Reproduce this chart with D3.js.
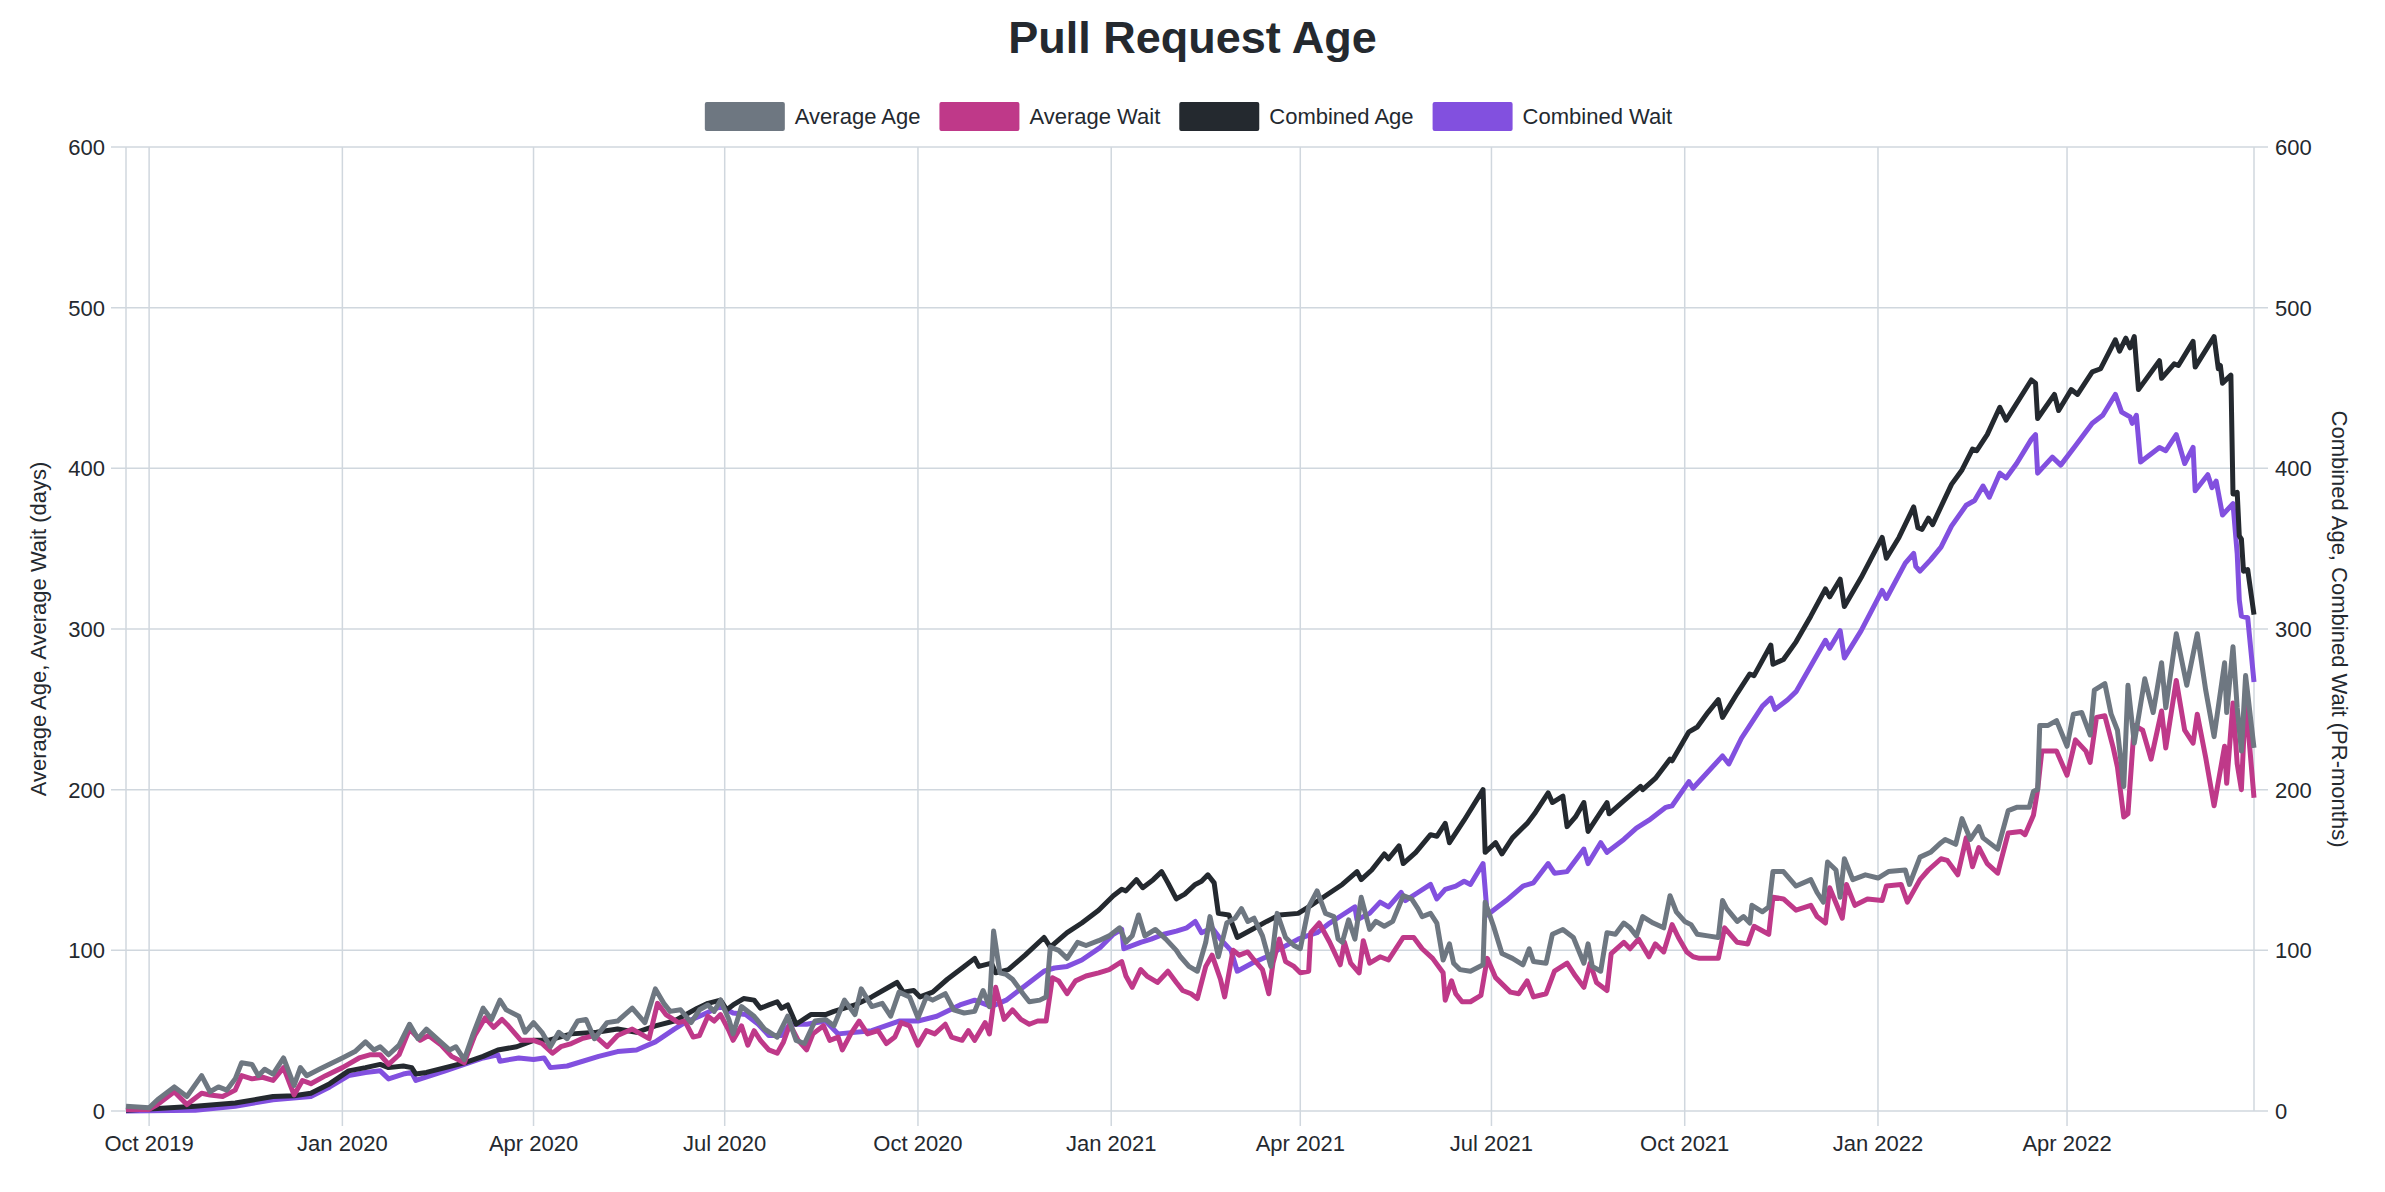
<!DOCTYPE html>
<html>
<head>
<meta charset="utf-8">
<script src="https://cdn.jsdelivr.net/npm/d3@7"></script>
<style>
  body { margin: 0; background: #fff; }
  text { font-family: "Liberation Sans", Arial, Helvetica, sans-serif; fill: #24292f; }
</style>
</head>
<body>
<div id="chart"></div>
<script>
// ---- data ----
var seriesNames = ["Average Age", "Average Wait", "Combined Age", "Combined Wait"];
var seriesAxis  = ["left", "left", "right", "right"];
var yTicks = [0, 100, 200, 300, 400, 500, 600];
var leftTitle = "Average Age, Average Wait (days)";
var rightTitle = "Combined Age, Combined Wait (PR-months)";

var avgAgeData = [["2019-09-20",3],["2019-10-01",2],["2019-10-05",7],["2019-10-13",15],["2019-10-19",9],["2019-10-26",22],["2019-10-30",12],["2019-11-03",15],["2019-11-07",13],["2019-11-11",20],["2019-11-14",30],["2019-11-19",29],["2019-11-22",22],["2019-11-25",26],["2019-11-29",23],["2019-12-04",33],["2019-12-09",16],["2019-12-12",27],["2019-12-15",22],["2019-12-21",26],["2020-01-01",33],["2020-01-07",37],["2020-01-12",43],["2020-01-16",38],["2020-01-19",40],["2020-01-23",35],["2020-01-28",41],["2020-02-02",54],["2020-02-06",45],["2020-02-10",51],["2020-02-15",45],["2020-02-21",38],["2020-02-24",40],["2020-02-28",32],["2020-03-03",47],["2020-03-08",64],["2020-03-12",57],["2020-03-16",69],["2020-03-19",63],["2020-03-25",59],["2020-03-28",49],["2020-04-01",55],["2020-04-05",49],["2020-04-09",40],["2020-04-13",49],["2020-04-17",45],["2020-04-22",56],["2020-04-26",57],["2020-04-30",45],["2020-05-06",55],["2020-05-11",56],["2020-05-18",64],["2020-05-24",55],["2020-05-29",76],["2020-06-02",67],["2020-06-05",62],["2020-06-10",63],["2020-06-15",55],["2020-06-19",63],["2020-06-23",66],["2020-06-26",62],["2020-06-29",69],["2020-07-03",57],["2020-07-05",48],["2020-07-09",65],["2020-07-15",59],["2020-07-20",51],["2020-07-26",46],["2020-07-31",59],["2020-08-04",44],["2020-08-08",42],["2020-08-13",56],["2020-08-18",57],["2020-08-22",53],["2020-08-27",69],["2020-09-01",60],["2020-09-04",76],["2020-09-09",65],["2020-09-14",67],["2020-09-18",59],["2020-09-22",74],["2020-09-27",71],["2020-10-01",58],["2020-10-05",71],["2020-10-08",69],["2020-10-14",73],["2020-10-18",63],["2020-10-23",61],["2020-10-28",62],["2020-11-01",75],["2020-11-04",65],["2020-11-06",112],["2020-11-09",86],["2020-11-12",85],["2020-11-15",82],["2020-11-20",73],["2020-11-23",68],["2020-11-28",69],["2020-12-01",71],["2020-12-03",102],["2020-12-07",100],["2020-12-11",95],["2020-12-16",105],["2020-12-20",103],["2020-12-26",106],["2020-12-31",109],["2021-01-05",114],["2021-01-08",105],["2021-01-11",109],["2021-01-14",122],["2021-01-17",109],["2021-01-22",113],["2021-01-27",107],["2021-02-01",100],["2021-02-03",96],["2021-02-07",90],["2021-02-11",87],["2021-02-15",105],["2021-02-17",121],["2021-02-21",96],["2021-02-25",117],["2021-03-01",120],["2021-03-04",126],["2021-03-07",118],["2021-03-10",120],["2021-03-14",109],["2021-03-18",90],["2021-03-21",123],["2021-03-25",108],["2021-03-29",103],["2021-04-01",101],["2021-04-05",127],["2021-04-09",137],["2021-04-13",123],["2021-04-17",121],["2021-04-19",107],["2021-04-21",105],["2021-04-24",119],["2021-04-27",107],["2021-04-30",133],["2021-05-04",113],["2021-05-07",118],["2021-05-11",115],["2021-05-15",118],["2021-05-20",134],["2021-05-24",132],["2021-05-27",126],["2021-05-29",121],["2021-06-02",123],["2021-06-05",117],["2021-06-08",94],["2021-06-11",104],["2021-06-13",92],["2021-06-16",88],["2021-06-21",87],["2021-06-27",91],["2021-06-28",130],["2021-07-02",115],["2021-07-06",98],["2021-07-11",95],["2021-07-16",91],["2021-07-19",101],["2021-07-21",93],["2021-07-27",92],["2021-07-30",110],["2021-08-04",113],["2021-08-09",108],["2021-08-14",92],["2021-08-16",104],["2021-08-18",90],["2021-08-22",87],["2021-08-25",111],["2021-08-29",110],["2021-09-02",117],["2021-09-05",114],["2021-09-08",109],["2021-09-11",121],["2021-09-16",117],["2021-09-21",114],["2021-09-24",134],["2021-09-27",124],["2021-10-01",118],["2021-10-04",116],["2021-10-07",110],["2021-10-12",109],["2021-10-17",108],["2021-10-19",131],["2021-10-21",126],["2021-10-26",118],["2021-10-29",121],["2021-11-01",117],["2021-11-02",128],["2021-11-07",124],["2021-11-10",127],["2021-11-12",149],["2021-11-17",149],["2021-11-23",140],["2021-11-30",144],["2021-12-03",136],["2021-12-06",130],["2021-12-08",155],["2021-12-12",150],["2021-12-14",133],["2021-12-16",157],["2021-12-20",144],["2021-12-26",147],["2022-01-01",145],["2022-01-06",149],["2022-01-14",150],["2022-01-16",141],["2022-01-21",158],["2022-01-26",161],["2022-01-31",167],["2022-02-02",169],["2022-02-07",166],["2022-02-10",182],["2022-02-14",169],["2022-02-18",177],["2022-02-20",170],["2022-02-27",163],["2022-03-04",187],["2022-03-08",189],["2022-03-14",189],["2022-03-16",199],["2022-03-18",200],["2022-03-19",240],["2022-03-23",240],["2022-03-27",243],["2022-04-01",227],["2022-04-04",247],["2022-04-08",248],["2022-04-12",234],["2022-04-14",262],["2022-04-19",266],["2022-04-22",247],["2022-04-25",237],["2022-04-28",202],["2022-04-30",265],["2022-05-03",229],["2022-05-08",269],["2022-05-12",248],["2022-05-16",279],["2022-05-18",251],["2022-05-23",297],["2022-05-28",265],["2022-06-02",297],["2022-06-06",262],["2022-06-10",233],["2022-06-15",279],["2022-06-16",248],["2022-06-19",289],["2022-06-21",251],["2022-06-23",224],["2022-06-25",271],["2022-06-29",226]];

var avgWaitData = [["2019-09-20",1],["2019-10-01",1],["2019-10-05",4],["2019-10-13",12],["2019-10-19",4],["2019-10-26",11],["2019-10-30",10],["2019-11-05",9],["2019-11-11",13],["2019-11-14",22],["2019-11-19",20],["2019-11-24",21],["2019-11-29",19],["2019-12-04",27],["2019-12-09",10],["2019-12-13",19],["2019-12-17",17],["2019-12-24",22],["2020-01-01",27],["2020-01-09",33],["2020-01-14",35],["2020-01-19",35],["2020-01-23",29],["2020-01-28",35],["2020-02-02",51],["2020-02-07",44],["2020-02-11",47],["2020-02-17",41],["2020-02-22",34],["2020-02-28",30],["2020-03-04",47],["2020-03-09",58],["2020-03-13",52],["2020-03-17",57],["2020-03-20",53],["2020-03-26",44],["2020-04-01",44],["2020-04-05",42],["2020-04-10",36],["2020-04-14",40],["2020-04-19",42],["2020-04-24",45],["2020-04-30",47],["2020-05-06",40],["2020-05-11",47],["2020-05-18",51],["2020-05-26",45],["2020-05-30",67],["2020-06-03",60],["2020-06-09",55],["2020-06-12",56],["2020-06-16",46],["2020-06-19",47],["2020-06-23",59],["2020-06-26",56],["2020-06-29",60],["2020-07-03",50],["2020-07-05",44],["2020-07-09",53],["2020-07-12",41],["2020-07-15",50],["2020-07-18",44],["2020-07-22",38],["2020-07-26",36],["2020-07-29",43],["2020-08-01",54],["2020-08-05",44],["2020-08-09",38],["2020-08-12",48],["2020-08-17",53],["2020-08-20",44],["2020-08-24",46],["2020-08-26",38],["2020-08-30",48],["2020-09-03",56],["2020-09-07",48],["2020-09-12",50],["2020-09-16",42],["2020-09-20",46],["2020-09-23",55],["2020-09-27",53],["2020-10-01",41],["2020-10-05",50],["2020-10-09",48],["2020-10-14",54],["2020-10-17",46],["2020-10-22",44],["2020-10-25",50],["2020-10-28",44],["2020-11-02",55],["2020-11-04",48],["2020-11-07",77],["2020-11-11",57],["2020-11-15",63],["2020-11-19",57],["2020-11-23",54],["2020-11-27",56],["2020-12-01",56],["2020-12-04",83],["2020-12-07",81],["2020-12-11",73],["2020-12-15",81],["2020-12-20",84],["2020-12-26",86],["2020-12-31",88],["2021-01-06",93],["2021-01-08",84],["2021-01-11",77],["2021-01-15",88],["2021-01-18",84],["2021-01-23",80],["2021-01-28",87],["2021-02-01",80],["2021-02-04",75],["2021-02-08",73],["2021-02-11",70],["2021-02-15",90],["2021-02-18",97],["2021-02-22",82],["2021-02-24",71],["2021-02-28",100],["2021-03-03",97],["2021-03-07",99],["2021-03-10",94],["2021-03-14",88],["2021-03-17",73],["2021-03-19",92],["2021-03-22",107],["2021-03-25",93],["2021-03-29",90],["2021-04-01",86],["2021-04-05",87],["2021-04-06",111],["2021-04-10",117],["2021-04-15",105],["2021-04-20",91],["2021-04-22",105],["2021-04-25",92],["2021-04-29",86],["2021-05-01",106],["2021-05-04",92],["2021-05-09",96],["2021-05-13",94],["2021-05-20",108],["2021-05-25",108],["2021-05-29",101],["2021-06-03",95],["2021-06-08",86],["2021-06-09",69],["2021-06-12",81],["2021-06-14",73],["2021-06-17",68],["2021-06-21",68],["2021-06-26",72],["2021-06-29",95],["2021-07-03",83],["2021-07-10",74],["2021-07-14",73],["2021-07-18",81],["2021-07-21",71],["2021-07-27",73],["2021-07-31",87],["2021-08-06",92],["2021-08-10",84],["2021-08-14",77],["2021-08-17",92],["2021-08-20",80],["2021-08-25",75],["2021-08-27",98],["2021-09-02",105],["2021-09-05",101],["2021-09-09",107],["2021-09-14",96],["2021-09-17",104],["2021-09-21",99],["2021-09-25",116],["2021-09-28",108],["2021-10-02",99],["2021-10-05",96],["2021-10-08",95],["2021-10-17",95],["2021-10-20",114],["2021-10-26",105],["2021-10-31",104],["2021-11-03",115],["2021-11-10",110],["2021-11-12",133],["2021-11-17",132],["2021-11-23",125],["2021-11-30",128],["2021-12-03",121],["2021-12-07",117],["2021-12-09",139],["2021-12-15",120],["2021-12-17",141],["2021-12-21",128],["2021-12-27",132],["2022-01-03",131],["2022-01-05",140],["2022-01-12",141],["2022-01-15",130],["2022-01-21",144],["2022-01-25",150],["2022-01-31",157],["2022-02-03",156],["2022-02-08",147],["2022-02-12",170],["2022-02-15",152],["2022-02-18",164],["2022-02-22",154],["2022-02-27",148],["2022-03-04",173],["2022-03-10",174],["2022-03-12",172],["2022-03-16",184],["2022-03-18",200],["2022-03-20",224],["2022-03-27",224],["2022-04-01",209],["2022-04-05",231],["2022-04-10",224],["2022-04-12",217],["2022-04-15",245],["2022-04-19",246],["2022-04-23",226],["2022-04-25",214],["2022-04-28",183],["2022-04-30",185],["2022-05-03",240],["2022-05-07",237],["2022-05-11",219],["2022-05-16",249],["2022-05-18",226],["2022-05-23",268],["2022-05-27",237],["2022-05-31",229],["2022-06-02",247],["2022-06-06",220],["2022-06-10",190],["2022-06-15",227],["2022-06-16",204],["2022-06-19",254],["2022-06-21",216],["2022-06-23",200],["2022-06-25",257],["2022-06-29",195]];

var combinedAgeData = [["2019-09-20",0.5],["2019-10-05",1.5],["2019-10-23",3],["2019-11-11",5],["2019-11-29",9],["2019-12-09",9.5],["2019-12-17",11],["2019-12-26",17],["2020-01-04",25],["2020-01-12",27],["2020-01-19",29],["2020-01-23",27],["2020-01-30",28],["2020-02-03",27],["2020-02-05",23],["2020-02-10",24],["2020-02-19",27],["2020-02-28",30],["2020-03-08",34],["2020-03-15",38],["2020-03-24",40],["2020-04-01",44],["2020-04-08",44],["2020-04-19",48],["2020-05-01",49],["2020-05-11",51],["2020-05-20",49],["2020-05-29",53],["2020-06-07",56],["2020-06-18",64],["2020-06-23",67],["2020-06-29",69],["2020-07-02",63],["2020-07-05",66],["2020-07-10",70],["2020-07-15",69],["2020-07-18",64],["2020-07-22",66],["2020-07-26",68],["2020-07-28",64],["2020-07-31",66],["2020-08-02",60],["2020-08-04",54],["2020-08-11",60],["2020-08-18",60],["2020-08-22",62],["2020-09-01",66],["2020-09-09",71],["2020-09-17",77],["2020-09-21",80],["2020-09-24",74],["2020-09-29",75],["2020-10-02",71],["2020-10-08",74],["2020-10-15",82],["2020-10-23",90],["2020-10-28",95],["2020-10-30",90],["2020-11-05",92],["2020-11-07",86],["2020-11-13",88],["2020-11-21",97],["2020-11-30",108],["2020-12-03",102],["2020-12-11",111],["2020-12-18",117],["2020-12-26",125],["2021-01-02",134],["2021-01-06",138],["2021-01-08",137],["2021-01-13",144],["2021-01-16",139],["2021-01-21",144],["2021-01-25",149],["2021-01-28",142],["2021-02-01",132],["2021-02-05",135],["2021-02-10",141],["2021-02-13",143],["2021-02-16",147],["2021-02-19",142],["2021-02-21",123],["2021-02-26",122],["2021-03-02",108],["2021-03-09",113],["2021-03-16",118],["2021-03-22",122],["2021-03-31",123],["2021-04-05",127],["2021-04-13",134],["2021-04-21",141],["2021-04-28",149],["2021-04-30",144],["2021-05-05",150],["2021-05-11",160],["2021-05-13",157],["2021-05-18",165],["2021-05-20",154],["2021-05-26",161],["2021-06-02",172],["2021-06-05",171],["2021-06-09",179],["2021-06-11",167],["2021-06-18",181],["2021-06-27",200],["2021-06-28",161],["2021-07-03",167],["2021-07-06",160],["2021-07-11",170],["2021-07-18",179],["2021-07-22",186],["2021-07-28",198],["2021-07-30",192],["2021-08-04",196],["2021-08-06",177],["2021-08-10",183],["2021-08-14",192],["2021-08-16",174],["2021-08-22",186],["2021-08-25",192],["2021-08-26",185],["2021-09-02",193],["2021-09-10",202],["2021-09-11",200],["2021-09-17",207],["2021-09-24",219],["2021-09-25",218],["2021-10-03",236],["2021-10-07",239],["2021-10-12",248],["2021-10-17",256],["2021-10-19",245],["2021-10-26",260],["2021-11-01",272],["2021-11-03",271],["2021-11-11",290],["2021-11-12",278],["2021-11-17",281],["2021-11-23",292],["2021-11-30",308],["2021-12-07",325],["2021-12-09",320],["2021-12-14",331],["2021-12-16",314],["2021-12-24",332],["2022-01-03",357],["2022-01-05",344],["2022-01-11",357],["2022-01-18",376],["2022-01-20",363],["2022-01-22",362],["2022-01-25",369],["2022-01-27",365],["2022-02-05",390],["2022-02-10",399],["2022-02-15",412],["2022-02-17",411],["2022-02-22",421],["2022-02-28",438],["2022-03-03",430],["2022-03-15",455],["2022-03-17",453],["2022-03-18",431],["2022-03-26",446],["2022-03-28",436],["2022-04-03",449],["2022-04-06",446],["2022-04-13",460],["2022-04-17",462],["2022-04-24",480],["2022-04-26",473],["2022-04-29",481],["2022-05-01",475],["2022-05-03",482],["2022-05-05",449],["2022-05-15",467],["2022-05-16",456],["2022-05-22",465],["2022-05-24",464],["2022-05-31",479],["2022-06-01",463],["2022-06-10",482],["2022-06-12",462],["2022-06-13",464],["2022-06-14",453],["2022-06-18",458],["2022-06-19",384],["2022-06-21",385],["2022-06-22",358],["2022-06-23",356],["2022-06-24",336],["2022-06-26",337],["2022-06-29",309]];

var combinedWaitData = [["2019-09-20",0],["2019-10-23",0.5],["2019-11-11",3],["2019-11-29",7],["2019-12-17",9],["2019-12-26",15],["2020-01-04",22],["2020-01-12",24],["2020-01-19",25],["2020-01-23",20],["2020-01-30",23],["2020-02-03",24],["2020-02-05",19],["2020-02-19",25],["2020-02-28",29],["2020-03-08",33],["2020-03-15",35],["2020-03-16",31],["2020-03-25",33],["2020-04-01",32],["2020-04-06",33],["2020-04-09",27],["2020-04-17",28],["2020-05-02",34],["2020-05-11",37],["2020-05-20",38],["2020-05-29",43],["2020-06-07",51],["2020-06-12",55],["2020-06-19",59],["2020-06-29",65],["2020-07-05",61],["2020-07-11",60],["2020-07-17",54],["2020-07-22",47],["2020-07-28",47],["2020-08-01",54],["2020-08-09",54],["2020-08-18",56],["2020-08-24",48],["2020-09-09",50],["2020-09-22",56],["2020-10-01",56],["2020-10-10",59],["2020-10-21",66],["2020-10-28",69],["2020-11-05",65],["2020-11-12",69],["2020-11-21",78],["2020-11-30",87],["2020-12-05",89],["2020-12-11",90],["2020-12-18",94],["2020-12-27",102],["2021-01-02",110],["2021-01-06",113],["2021-01-07",101],["2021-01-15",105],["2021-01-20",107],["2021-01-26",110],["2021-02-01",112],["2021-02-06",114],["2021-02-10",118],["2021-02-13",111],["2021-02-18",114],["2021-02-22",107],["2021-02-27",100],["2021-03-02",87],["2021-03-09",92],["2021-03-16",96],["2021-03-21",100],["2021-03-31",107],["2021-04-02",108],["2021-04-09",111],["2021-04-15",117],["2021-04-21",122],["2021-04-27",127],["2021-04-28",119],["2021-05-04",123],["2021-05-09",130],["2021-05-13",127],["2021-05-19",136],["2021-05-21",131],["2021-05-27",136],["2021-06-02",141],["2021-06-05",132],["2021-06-09",138],["2021-06-14",140],["2021-06-18",143],["2021-06-21",141],["2021-06-27",154],["2021-06-29",122],["2021-07-03",126],["2021-07-08",131],["2021-07-16",140],["2021-07-21",142],["2021-07-28",154],["2021-07-31",148],["2021-08-06",149],["2021-08-14",163],["2021-08-16",154],["2021-08-22",167],["2021-08-25",161],["2021-09-02",169],["2021-09-08",176],["2021-09-14",181],["2021-09-22",189],["2021-09-25",190],["2021-10-03",205],["2021-10-05",201],["2021-10-19",221],["2021-10-22",216],["2021-10-28",232],["2021-11-01",240],["2021-11-07",252],["2021-11-11",257],["2021-11-13",250],["2021-11-19",256],["2021-11-23",261],["2021-11-30",277],["2021-12-07",293],["2021-12-09",288],["2021-12-14",299],["2021-12-16",282],["2021-12-24",299],["2022-01-03",324],["2022-01-05",319],["2022-01-14",341],["2022-01-18",347],["2022-01-19",339],["2022-01-21",336],["2022-01-26",343],["2022-01-31",351],["2022-02-05",364],["2022-02-12",377],["2022-02-16",380],["2022-02-20",389],["2022-02-23",382],["2022-02-28",397],["2022-03-03",394],["2022-03-08",403],["2022-03-15",418],["2022-03-17",421],["2022-03-18",397],["2022-03-25",407],["2022-03-29",402],["2022-04-05",414],["2022-04-13",428],["2022-04-18",433],["2022-04-24",446],["2022-04-27",435],["2022-05-01",432],["2022-05-02",428],["2022-05-04",433],["2022-05-06",404],["2022-05-08",406],["2022-05-15",413],["2022-05-18",411],["2022-05-23",421],["2022-05-27",403],["2022-05-31",413],["2022-06-01",386],["2022-06-07",396],["2022-06-09",388],["2022-06-11",392],["2022-06-14",371],["2022-06-19",378],["2022-06-21",347],["2022-06-22",318],["2022-06-23",308],["2022-06-26",307],["2022-06-29",267]];

var seriesData = [avgAgeData, avgWaitData, combinedAgeData, combinedWaitData];
var seriesColors = ["#6e7781", "#bf3989", "#24292f", "#8250df"];

(function (){
    var width = 2385,
        height = 1192;
    var margin = {top: 147, right: 131, bottom: 81, left: 126};
    var plotW = width - margin.left - margin.right,
        plotH = height - margin.top - margin.bottom;

    var parse = d3.timeParse("%Y-%m-%d");
    var series = seriesData.map(function(rows, i){
        return {
            name: seriesNames[i],
            axis: seriesAxis[i],
            color: seriesColors[i],
            values: rows.map(function(r){ return {date: parse(r[0]), value: r[1]}; })
        };
    });

    var allDates = [];
    series.forEach(function(s){ s.values.forEach(function(v){ allDates.push(v.date); }); });

    var x = d3.scaleTime()
        .domain(d3.extent(allDates))
        .range([0, plotW]);
    var yLeft = d3.scaleLinear().domain([0, 600]).range([plotH, 0]);
    var yRight = d3.scaleLinear().domain([0, 600]).range([plotH, 0]);

    var svg = d3.select("#chart")
        .append("svg")
        .attr("width", width)
        .attr("height", height);

    // title
    svg.append("text")
        .attr("x", width/2)
        .attr("y", 53)
        .attr("text-anchor", "middle")
        .style("font-size", "45px")
        .style("font-weight", "bold")
        .text("Pull Request Age");

    // legend
    var legend = svg.append("g");
    var items = legend.selectAll("g")
        .data(series)
        .enter().append("g");
    items.append("rect")
        .attr("width", 80)
        .attr("height", 29)
        .attr("rx", 2)
        .attr("fill", function(d){ return d.color; });
    items.append("text")
        .attr("x", 90)
        .attr("y", 22)
        .style("font-size", "22px")
        .text(function(d){ return d.name; });
    var offsets = [], total = 0;
    items.each(function(){
        var w = 90 + this.querySelector("text").getComputedTextLength();
        offsets.push(total);
        total += w + 19;
    });
    total -= 19;
    items.attr("transform", function(d, i){ return "translate(" + offsets[i] + ",0)"; });
    legend.attr("transform", "translate(" + (width/2 - total/2 - 4) + ",102)");

    var g = svg.append("g")
        .attr("transform", "translate(" + margin.left + "," + margin.top + ")");

    var gridColor = "#d0d7de";
    var xTicks = x.ticks(d3.timeMonth.every(3));

    // vertical grid + ticks
    g.selectAll(".vgrid")
        .data(xTicks)
        .enter().append("line")
        .attr("class", "vgrid")
        .attr("x1", function(d){ return x(d); })
        .attr("x2", function(d){ return x(d); })
        .attr("y1", 0)
        .attr("y2", plotH + 15)
        .attr("stroke", gridColor)
        .attr("stroke-width", 1.5);

    // horizontal grid + ticks on both sides
    g.selectAll(".hgrid")
        .data(yTicks)
        .enter().append("line")
        .attr("class", "hgrid")
        .attr("x1", -15)
        .attr("x2", plotW + 14)
        .attr("y1", function(d){ return yLeft(d); })
        .attr("y2", function(d){ return yLeft(d); })
        .attr("stroke", gridColor)
        .attr("stroke-width", 1.5);

    // axis borders
    g.append("line").attr("x1", 0).attr("x2", 0).attr("y1", 0).attr("y2", plotH)
        .attr("stroke", gridColor).attr("stroke-width", 1.5);
    g.append("line").attr("x1", plotW).attr("x2", plotW).attr("y1", 0).attr("y2", plotH)
        .attr("stroke", gridColor).attr("stroke-width", 1.5);

    // tick labels
    var fmt = d3.timeFormat("%b %Y");
    g.selectAll(".xlab")
        .data(xTicks)
        .enter().append("text")
        .attr("class", "xlab")
        .attr("x", function(d){ return x(d); })
        .attr("y", plotH + 40)
        .attr("text-anchor", "middle")
        .style("font-size", "22px")
        .text(function(d){ return fmt(d); });

    g.selectAll(".ylabL")
        .data(yTicks)
        .enter().append("text")
        .attr("class", "ylabL")
        .attr("x", -21)
        .attr("y", function(d){ return yLeft(d); })
        .attr("dy", "0.36em")
        .attr("text-anchor", "end")
        .style("font-size", "22px")
        .text(function(d){ return d; });

    g.selectAll(".ylabR")
        .data(yTicks)
        .enter().append("text")
        .attr("class", "ylabR")
        .attr("x", plotW + 21)
        .attr("y", function(d){ return yRight(d); })
        .attr("dy", "0.36em")
        .attr("text-anchor", "start")
        .style("font-size", "22px")
        .text(function(d){ return d; });

    // axis titles
    svg.append("text")
        .attr("transform", "translate(38," + (margin.top + plotH/2) + ") rotate(-90)")
        .attr("text-anchor", "middle")
        .attr("dy", "0.36em")
        .style("font-size", "22px")
        .text(leftTitle);
    svg.append("text")
        .attr("transform", "translate(2340," + (margin.top + plotH/2) + ") rotate(90)")
        .attr("text-anchor", "middle")
        .attr("dy", "0.36em")
        .style("font-size", "22px")
        .text(rightTitle);

    // lines: first dataset drawn last (on top)
    var drawOrder = series.slice().reverse();
    g.selectAll(".series")
        .data(drawOrder)
        .enter().append("path")
        .attr("class", "series")
        .attr("fill", "none")
        .attr("stroke", function(d){ return d.color; })
        .attr("stroke-width", 5)
        .attr("stroke-linejoin", "round")
        .attr("d", function(d){
            var y = d.axis === "left" ? yLeft : yRight;
            return d3.line()
                .x(function(v){ return x(v.date); })
                .y(function(v){ return y(v.value); })(d.values);
        });
})();
</script>
</body>
</html>
